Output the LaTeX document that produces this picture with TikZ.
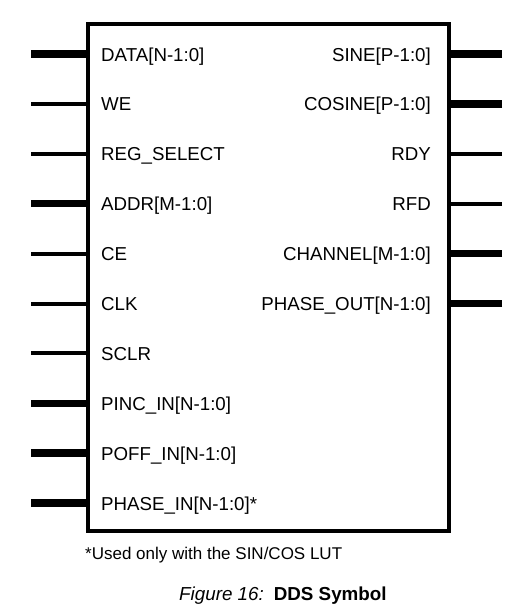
\documentclass[tikz,border=0pt]{standalone}
\usepackage{fontspec}
\setmainfont{Liberation Sans}
\usepackage{tikz}

\tikzset{
    buspin/.style={line width=7.5pt},
    sigpin/.style={line width=4pt},
    lbl/.style={inner sep=0, font=\fontsize{18.7}{22}\selectfont},
}

\begin{document}
\begin{tikzpicture}[x=1pt, y=-1pt]
    \useasboundingbox (0, 0) rectangle (529, 614);
    \node[draw, line width=3.5pt, inner sep=0, minimum width=361pt, minimum height=507pt, anchor=north west] (dds) at (86, 22) {};
    % inputs
    \draw[buspin] (31, 54) coordinate (data) -- (data -| dds.west);
    \node[lbl, anchor=base west] (datal) at (101, 61) {DATA[N-1:0]};
    \draw[sigpin] (31, 103.9) coordinate (we) -- (we -| dds.west);
    \node[lbl, anchor=base west] (wel) at (101, 110.9) {WE};
    \draw[sigpin] (31, 153.8) coordinate (regsel) -- (regsel -| dds.west);
    \node[lbl, anchor=base west] (regsell) at (101, 160.8) {REG\_SELECT};
    \draw[buspin] (31, 203.7) coordinate (addr) -- (addr -| dds.west);
    \node[lbl, anchor=base west] (addrl) at (101, 210.7) {ADDR[M-1:0]};
    \draw[sigpin] (31, 253.6) coordinate (ce) -- (ce -| dds.west);
    \node[lbl, anchor=base west] (cel) at (101, 260.6) {CE};
    \draw[sigpin] (31, 303.5) coordinate (clk) -- (clk -| dds.west);
    \node[lbl, anchor=base west] (clkl) at (101, 310.5) {CLK};
    \draw[sigpin] (31, 353.4) coordinate (sclr) -- (sclr -| dds.west);
    \node[lbl, anchor=base west] (sclrl) at (101, 360.4) {SCLR};
    \draw[buspin] (31, 403.3) coordinate (pinc) -- (pinc -| dds.west);
    \node[lbl, anchor=base west] (pincl) at (101, 410.3) {PINC\_IN[N-1:0]};
    \draw[buspin] (31, 453.2) coordinate (poff) -- (poff -| dds.west);
    \node[lbl, anchor=base west] (poffl) at (101, 460.2) {POFF\_IN[N-1:0]};
    \draw[buspin] (31, 503.1) coordinate (phin) -- (phin -| dds.west);
    \node[lbl, anchor=base west] (phinl) at (101, 510.1) {PHASE\_IN[N-1:0]*};
    % outputs
    \draw[buspin] (502, 54) coordinate (sine) -- (sine -| dds.east);
    \node[lbl, anchor=base east] (sinel) at (431, 61) {SINE[P-1:0]};
    \draw[buspin] (502, 103.9) coordinate (cosine) -- (cosine -| dds.east);
    \node[lbl, anchor=base east] (cosinel) at (431, 110.9) {COSINE[P-1:0]};
    \draw[sigpin] (502, 153.8) coordinate (rdy) -- (rdy -| dds.east);
    \node[lbl, anchor=base east] (rdyl) at (431, 160.8) {RDY};
    \draw[sigpin] (502, 203.7) coordinate (rfd) -- (rfd -| dds.east);
    \node[lbl, anchor=base east] (rfdl) at (431, 210.7) {RFD};
    \draw[buspin] (502, 253.6) coordinate (chan) -- (chan -| dds.east);
    \node[lbl, anchor=base east] (chanl) at (431, 260.6) {CHANNEL[M-1:0]};
    \draw[buspin] (502, 303.5) coordinate (phout) -- (phout -| dds.east);
    \node[lbl, anchor=base east] (phoutl) at (431, 310.5) {PHASE\_OUT[N-1:0]};
    % note and caption
    \node[inner sep=0, anchor=base west, font=\fontsize{17}{20}\selectfont] (note) at (85, 559) {*Used only with the SIN/COS LUT};
    \node[inner sep=0, anchor=base west, font=\fontsize{18.8}{22}\selectfont] (caption) at (179, 600) {\itshape Figure 16:\hspace{10pt}\upshape\bfseries DDS Symbol};
\end{tikzpicture}
\end{document}
